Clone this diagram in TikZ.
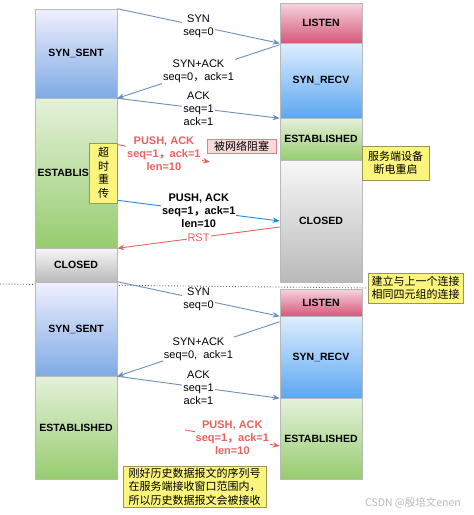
\documentclass[tikz,border=0pt]{standalone}
\usepackage{fontspec}
\setmainfont{Liberation Sans}
\newfontfamily\cjk{Noto Sans CJK SC}
\usetikzlibrary{arrows.meta}

\definecolor{lnblue}{HTML}{6C8EBF}
\definecolor{lnred}{HTML}{E8625F}
\definecolor{lnpush}{HTML}{2188E0}
\definecolor{notefill}{HTML}{FBF57E}
\definecolor{notedraw}{HTML}{9A9850}
\definecolor{blkfill}{HTML}{F9D9DA}
\definecolor{blkdraw}{HTML}{D88585}

\newcommand\fc{{\cjk ，}}

\tikzset{
  state/.style={draw=gray!55, line width=0.6pt, minimum width=82pt, inner sep=0pt,
    font=\fontsize{10.5}{12}\selectfont\bfseries},
  sent/.style={state, top color=blue!6, bottom color={rgb,255:red,126;green,170;blue,228}},
  listen/.style={state, top color={rgb,255:red,246;green,212;blue,222}, bottom color={rgb,255:red,214;green,88;blue,122}},
  recv/.style={state, top color={rgb,255:red,222;green,238;blue,255}, bottom color={rgb,255:red,92;green,167;blue,240}},
  est/.style={state, top color={rgb,255:red,229;green,241;blue,219}, bottom color={rgb,255:red,150;green,204;blue,110}},
  closed/.style={state, top color=gray!6, bottom color=gray!55},
  msg/.style={fill=white, inner sep=1pt, align=center, text=black,
    font=\fontsize{11}{13}\selectfont},
  msgred/.style={msg, text=lnred, font=\fontsize{11}{13}\selectfont\bfseries},
  msgbold/.style={msg, font=\fontsize{11}{13}\selectfont\bfseries},
  note/.style={draw=notedraw, fill=notefill, line width=0.7pt, inner sep=0pt,
    align=center, font=\cjk\fontsize{11}{13.5}\selectfont},
}

\begin{document}
\begin{tikzpicture}[x=1pt, y=-1pt]
  \useasboundingbox (0,0) rectangle (474,515);

  % notes used as line ends
  \node[note, minimum width=95pt, minimum height=30pt] (links) at (415.5,288)
    {建立与上一个连接\\相同四元组的连接};
  \draw[dotted, line width=0.9pt, gray!70!black] (0,284) -- (links.west);

  % client side
  \node[sent, minimum height=89pt] (sent1) at (76,53.5) {SYN\_SENT};
  \node[est, minimum height=150pt] (est1) at (76,173) {};
  \node[anchor=west, inner sep=0pt, font=\fontsize{10.5}{12}\selectfont\bfseries]
    (est1txt) at (37.5,173) {ESTABLIS};
  \node[closed, minimum height=34pt] (closed1) at (76,265) {CLOSED};
  \node[sent, minimum height=94pt] (sent2) at (76,329) {SYN\_SENT};
  \node[est, minimum height=103pt] (est2) at (76,427.5) {ESTABLISHED};

  % server side
  \node[listen, minimum height=40pt] (listen1) at (321,23) {LISTEN};
  \node[recv, minimum height=75pt] (recv1) at (321,80.5) {SYN\_RECV};
  \node[est, minimum height=42pt] (est3) at (321,139) {ESTABLISHED};
  \node[closed, minimum height=122pt] (closed2) at (321,221) {CLOSED};
  \node[listen, minimum height=27pt] (listen2) at (321,302.5) {LISTEN};
  \node[recv, minimum height=82pt] (recv2) at (321,357) {SYN\_RECV};
  \node[est, minimum height=81pt] (est4) at (321,438.5) {ESTABLISHED};

  % notes
  \node[note, minimum width=28pt, minimum height=60pt] (retx) at (103.5,173)
    {超\\时\\重\\传};
  \node[note, minimum width=67pt, minimum height=34pt] (reboot) at (395.5,163)
    {服务端设备\\断电重启};
  \node[draw=blkdraw, fill=blkfill, line width=0.6pt, inner sep=0pt,
    minimum width=69pt, minimum height=14pt, font=\cjk\fontsize{11}{13}\selectfont]
    (blocked) at (241.5,146) {被网络阻塞};
  \node[note, align=left, minimum width=143pt, minimum height=41pt] (hist) at (194.5,486.5)
    {刚好历史数据报文的序列号\\在服务端接收窗口范围内，\\所以历史数据报文会被接收};
  \node[text=gray!55, font=\cjk\fontsize{10.5}{12}\selectfont] (mark) at (413,503)
    {CSDN @殷培文enen};

  \coordinate (lost) at (210,162);
  \coordinate (old) at (185,430);

  \begin{scope}[->, >={Stealth[length=7pt,width=5.5pt]}, line width=0.9pt, lnblue]
    \draw (sent1.north east) -- node[msg] {SYN\\seq=0} (listen1.south west);
    \draw ([yshift=-2pt]recv1.north west) -- node[msg] {SYN+ACK\\seq=0\fc ack=1} (sent1.south east);
    \draw (sent1.south east) -- node[msg] {ACK\\seq=1\\ack=1} (recv1.south west);
    \draw[lnred] ([yshift=-2pt]retx.north east) -- node[msgred] {PUSH, ACK\\seq=1\fc ack=1\\len=10} (lost);
    \draw[lnpush] ([yshift=3pt]retx.south east) -- node[msgbold] {PUSH, ACK\\seq=1\fc ack=1\\len=10} (closed2.west);
    \draw[lnred] ([yshift=-6pt]closed2.west) -- node[msgred, font=\fontsize{11}{13}\selectfont] {RST} (est1.south east);
    \draw (sent2.north east) -- node[msg] {SYN\\seq=0} (listen2.south west);
    \draw ([yshift=-6pt]recv2.north west) -- node[msg] {SYN+ACK\\seq=0,\ \ ack=1} (sent2.south east);
    \draw (sent2.south east) -- node[msg] {ACK\\seq=1\\ack=1} (recv2.south west);
    \draw[lnred] (old) -- node[msgred] {PUSH, ACK\\seq=1\fc ack=1\\len=10} ([yshift=-7.5pt]est4.west);
  \end{scope}
\end{tikzpicture}
\end{document}
